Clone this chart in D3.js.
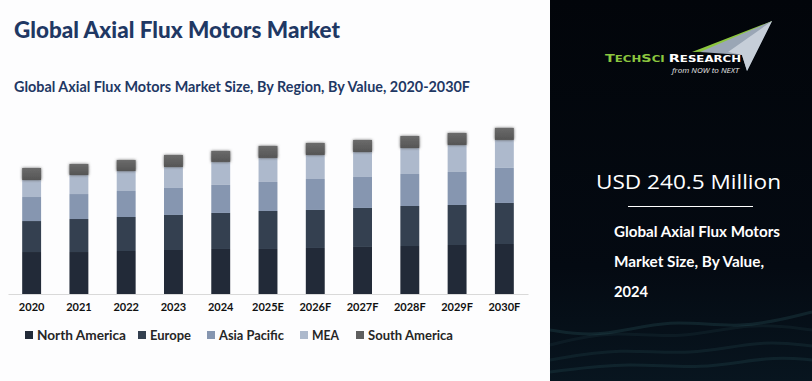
<!DOCTYPE html>
<html lang="en">

<head>
    <meta charset="utf-8" />
    <script src="https://d3js.org/d3.v7.min.js"></script>
    <style>
        html, body { margin: 0; padding: 0; background: #fdfdfe; }
        svg { display: block; }
    </style>
</head>

<body>
    <script>

        const w = 812;
        const h = 381;

        // data (USD million)
        const years = ["2020", "2021", "2022", "2023", "2024", "2025E", "2026F", "2027F", "2028F", "2029F", "2030F"];
        const regions = ["North America", "Europe", "Asia Pacific", "MEA", "South America"];
        const northAmerica = [70.6, 70.6, 72.3, 74.0, 75.7, 75.7, 77.4, 79.1, 80.7, 82.4, 84.1];
        const europe = [52.1, 55.5, 57.2, 58.9, 60.6, 63.9, 63.9, 65.6, 67.3, 67.3, 69.0];
        const asiaPacific = [40.4, 42.0, 43.7, 45.4, 47.1, 48.8, 52.1, 52.1, 53.8, 55.5, 58.9];
        const mea = [28.6, 32.0, 33.6, 35.3, 38.7, 40.4, 40.4, 42.0, 43.7, 45.4, 47.1];
        const southAmerica = [20.2, 18.5, 18.5, 20.2, 18.5, 20.2, 20.2, 20.2, 20.2, 20.2, 20.2];

        const colors = ["#222a38", "#344050", "#8696b0", "#adb9cc", "#5f5f5f"];

        const table = years.map((y, i) => ({
            year: y,
            "North America": northAmerica[i],
            "Europe": europe[i],
            "Asia Pacific": asiaPacific[i],
            "MEA": mea[i],
            "South America": southAmerica[i]
        }));

        const stacked = d3.stack().keys(regions)(table);

        const svg = d3.select("body")
            .append("svg")
            .attr("width", w)
            .attr("height", h);

        const defs = svg.append("defs");

        // soft shadow round the top segment
        const glow = defs.append("filter").attr("id", "glow")
            .attr("x", "-40%").attr("y", "-40%").attr("width", "180%").attr("height", "180%");
        glow.append("feGaussianBlur").attr("in", "SourceGraphic").attr("stdDeviation", 1.6).attr("result", "b");
        const fm = glow.append("feMerge");
        fm.append("feMergeNode").attr("in", "b");
        fm.append("feMergeNode").attr("in", "SourceGraphic");

        const saGrad = defs.append("linearGradient").attr("id", "saGrad")
            .attr("x1", 0).attr("y1", 0).attr("x2", 0).attr("y2", 1);
        saGrad.append("stop").attr("offset", "0%").attr("stop-color", "#6b6b6b");
        saGrad.append("stop").attr("offset", "100%").attr("stop-color", "#555555");

        const panelGrad = defs.append("linearGradient").attr("id", "panelGrad")
            .attr("x1", 0).attr("y1", 0).attr("x2", 0).attr("y2", 1);
        panelGrad.append("stop").attr("offset", "0%").attr("stop-color", "#02050a");
        panelGrad.append("stop").attr("offset", "70%").attr("stop-color", "#040a12");
        panelGrad.append("stop").attr("offset", "100%").attr("stop-color", "#08151f");

        svg.append("rect")
            .attr("width", w).attr("height", h)
            .attr("fill", "#fdfdfe");

        // titles
        svg.append("text")
            .attr("x", 14).attr("y", 38)
            .attr("textLength", 326).attr("lengthAdjust", "spacingAndGlyphs")
            .style("font-family", "Lato, 'Open Sans', sans-serif")
            .style("font-weight", "900")
            .style("font-size", "23.5px")
            .style("fill", "#1f3864")
            .text("Global Axial Flux Motors Market");

        svg.append("text")
            .attr("x", 14).attr("y", 92)
            .attr("textLength", 456).attr("lengthAdjust", "spacingAndGlyphs")
            .style("font-family", "Lato, 'Open Sans', sans-serif")
            .style("font-weight", "bold")
            .style("font-size", "15px")
            .style("fill", "#1f3864")
            .text("Global Axial Flux Motors Market Size, By Region, By Value, 2020-2030F");

        // chart
        const xScale = d3.scaleBand()
            .domain(years)
            .range([8, 528])
            .paddingInner(0.6)
            .paddingOuter(0.3);

        const yScale = d3.scaleLinear()
            .domain([0, 280])
            .range([294, 127.5]);

        const layers = svg.append("g").selectAll("g")
            .data(stacked)
            .enter()
            .append("g")
            .attr("fill", (d, i) => i === 4 ? "url(#saGrad)" : colors[i])
            .attr("filter", (d, i) => i === 4 ? "url(#glow)" : null);

        layers.selectAll("rect")
            .data(d => d)
            .enter()
            .append("rect")
            .attr("x", d => xScale(d.data.year))
            .attr("y", d => yScale(d[1]))
            .attr("width", xScale.bandwidth())
            .attr("height", d => yScale(d[0]) - yScale(d[1]));

        const xAxis = d3.axisBottom(xScale).tickSize(0).tickPadding(9);

        const gx = svg.append("g")
            .attr("transform", "translate(0, 294)")
            .call(xAxis);
        gx.select(".domain").attr("stroke", "#d9d9d9").attr("stroke-width", 1);
        gx.selectAll("text")
            .style("font-family", "Lato, 'Open Sans', sans-serif")
            .style("font-weight", "bold")
            .style("font-size", "11px")
            .style("fill", "#111");

        // legend
        const legendX = [25, 138, 207, 300, 356];
        const legendW = [89, 41, 65, 27, 85];
        const legend = svg.append("g").selectAll("g")
            .data(regions)
            .enter()
            .append("g")
            .attr("transform", (d, i) => `translate(${legendX[i]}, 330)`);

        legend.append("rect")
            .attr("y", 1)
            .attr("width", 8).attr("height", 8)
            .attr("fill", (d, i) => colors[i]);

        legend.append("text")
            .attr("x", 12).attr("y", 9.5)
            .attr("textLength", (d, i) => legendW[i]).attr("lengthAdjust", "spacingAndGlyphs")
            .style("font-family", "Lato, 'Open Sans', sans-serif")
            .style("font-weight", "bold")
            .style("font-size", "14px")
            .style("fill", "#262626")
            .text(d => d);

        // right side panel
        const panel = svg.append("g").attr("transform", "translate(550, 0)");

        panel.append("rect")
            .attr("width", 262).attr("height", h)
            .attr("fill", "url(#panelGrad)");

        // faint waves at the bottom
        const waves = [
            [[0, 345], [60, 330], [130, 340], [200, 322], [262, 330]],
            [[0, 360], [70, 348], [140, 356], [210, 340], [262, 346]],
            [[0, 372], [80, 362], [150, 370], [220, 356], [262, 360]],
            [[0, 330], [50, 338], [120, 318], [190, 330], [262, 312]]
        ];
        const waveLine = d3.line().curve(d3.curveBasis);
        panel.selectAll("path.wave")
            .data(waves)
            .enter()
            .append("path")
            .attr("class", "wave")
            .attr("d", waveLine)
            .attr("fill", "none")
            .attr("stroke", "#3a6f76")
            .attr("stroke-opacity", (d, i) => 0.12 + i * 0.03)
            .attr("stroke-width", 3);

        // logo
        const logo = panel.append("g");
        logo.append("path")
            .attr("d", "M142,52 L222,21 L196,51 Z")
            .attr("fill", "#8cc63f");
        logo.append("path")
            .attr("d", "M150,52 L222,21 L197,71 L192,55 Z")
            .attr("fill", "#9aa6b5");
        logo.append("path")
            .attr("d", "M178,52 L222,21 L197,71 L192,55 Z")
            .attr("fill", "#c6ced8");

        const brand = logo.append("text")
            .attr("x", 55).attr("y", 62)
            .attr("textLength", 136).attr("lengthAdjust", "spacingAndGlyphs")
            .style("font-family", "'DejaVu Sans', sans-serif")
            .style("font-weight", "bold")
            .style("font-size", "9px");
        brand.append("tspan").attr("fill", "#8cc63f").style("font-size", "11px").text("T");
        brand.append("tspan").attr("fill", "#8cc63f").text("ECH");
        brand.append("tspan").attr("fill", "#8cc63f").style("font-size", "11px").text("S");
        brand.append("tspan").attr("fill", "#8cc63f").text("CI ");
        brand.append("tspan").attr("fill", "#ffffff").style("font-size", "11px").text("R");
        brand.append("tspan").attr("fill", "#ffffff").text("ESEARCH");

        logo.append("text")
            .attr("x", 122).attr("y", 73)
            .attr("textLength", 67).attr("lengthAdjust", "spacingAndGlyphs")
            .style("font-family", "'Open Sans', sans-serif")
            .style("font-style", "italic")
            .style("font-size", "7.5px")
            .style("fill", "#e8e8e8")
            .text("from NOW to NEXT");

        panel.append("text")
            .attr("x", 46).attr("y", 189)
            .attr("textLength", 185).attr("lengthAdjust", "spacingAndGlyphs")
            .style("font-family", "'Open Sans', sans-serif")
            .style("font-size", "20px")
            .style("fill", "#ffffff")
            .text("USD 240.5 Million");

        panel.append("line")
            .attr("x1", 78).attr("x2", 203)
            .attr("y1", 206.5).attr("y2", 206.5)
            .attr("stroke", "#ffffff")
            .attr("stroke-width", 1);

        const subLines = ["Global Axial Flux Motors", "Market Size, By Value,", "2024"];
        const subW = [166, 150, 34];
        panel.selectAll("text.sub")
            .data(subLines)
            .enter()
            .append("text")
            .attr("class", "sub")
            .attr("x", 64)
            .attr("y", (d, i) => 237 + i * 30)
            .attr("textLength", (d, i) => subW[i]).attr("lengthAdjust", "spacingAndGlyphs")
            .style("font-family", "Lato, 'Open Sans', sans-serif")
            .style("font-weight", "bold")
            .style("font-size", "14.5px")
            .style("fill", "#ffffff")
            .text(d => d);

    </script>
</body>

</html>
